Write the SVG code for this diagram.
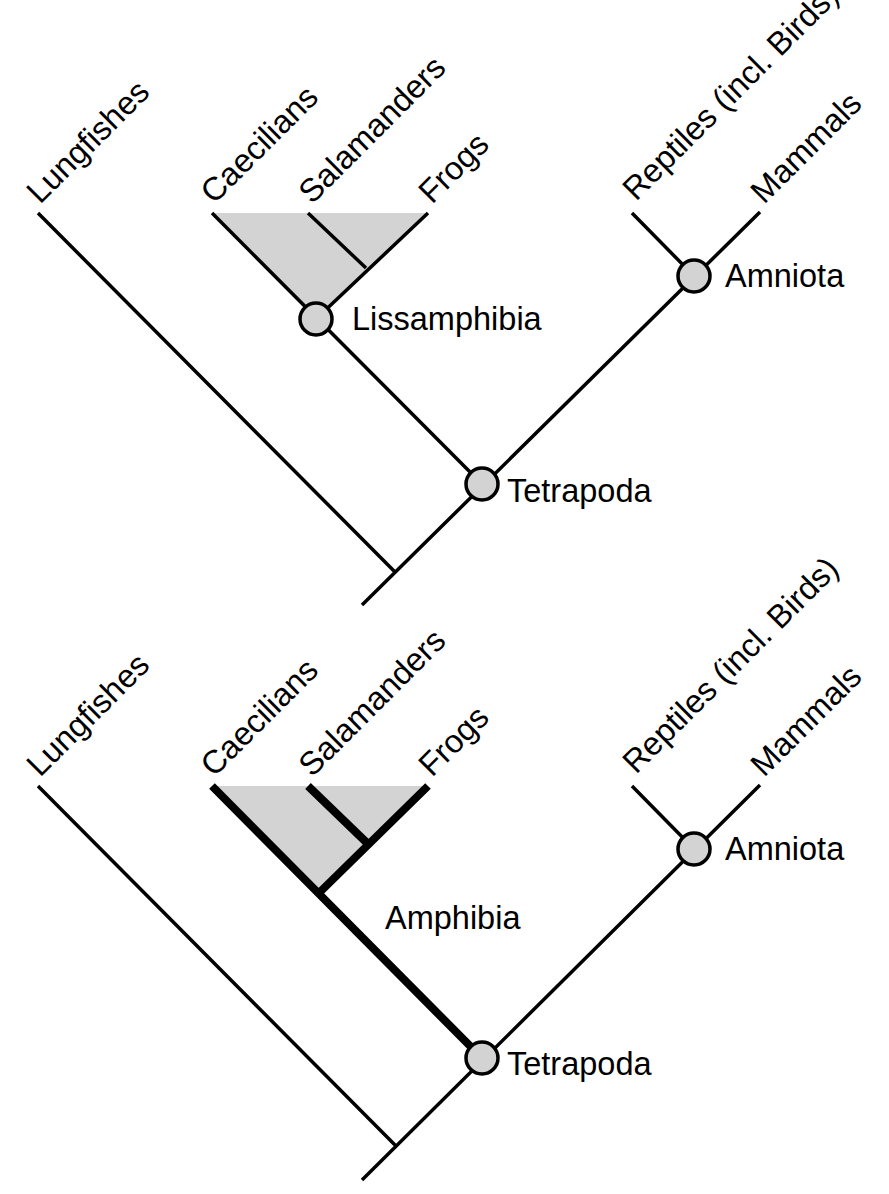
<svg xmlns="http://www.w3.org/2000/svg" width="889" height="1194" viewBox="0 0 889 1194">
<style>
.l{stroke:#000;stroke-width:3.5;fill:none;stroke-linecap:butt}
.t{stroke:#000;stroke-width:8;fill:none}
.tri{fill:#d3d3d3}
.n{fill:#d3d3d3;stroke:#000;stroke-width:3.5}
text{font-family:"Liberation Sans",Arial,sans-serif;font-size:32.5px;fill:#000}
</style>
<rect width="889" height="1194" fill="#fff"/>
<g id="connectors">
<polygon class="tri" points="212,213 428,213 316,319"/>
<path class="l" d="M362,605 L760,212 M38,213 L395,572 M482,484 L212,213 M316,319 L428,213 M308,213 L366,268 M694,276 L632,213"/>
<polygon class="tri" points="212,786 428,786 320,892"/>
<path class="l" d="M362,1180 L760,785 M38,786 L395,1145 M694,849 L632,786"/>
<path class="t" d="M482,1058 L212,786 M320,892 L428,786 M308,786 L366,842"/>
</g>
<g id="tetrapoda1"><circle class="n" cx="482" cy="484" r="16"/><text x="507" y="502">Tetrapoda</text></g>
<g id="lissamphibia"><circle class="n" cx="316" cy="319" r="16"/><text x="352" y="330">Lissamphibia</text></g>
<g id="amniota1"><circle class="n" cx="694" cy="276" r="16"/><text x="725" y="287">Amniota</text></g>
<g id="tetrapoda2"><circle class="n" cx="482" cy="1058" r="16"/><text x="507" y="1075">Tetrapoda</text></g>
<g id="amniota2"><circle class="n" cx="694" cy="849" r="16"/><text x="725" y="860">Amniota</text></g>
<g id="amphibia"><text x="385" y="929">Amphibia</text></g>
<g id="tips1">
<text transform="translate(40,205) rotate(-45)">Lungfishes</text>
<text transform="translate(214,205) rotate(-45)">Caecilians</text>
<text transform="translate(312,205) rotate(-45)">Salamanders</text>
<text transform="translate(432,205) rotate(-45)">Frogs</text>
<text transform="translate(636,202) rotate(-45)">Reptiles (incl. Birds)</text>
<text transform="translate(764,205) rotate(-45)">Mammals</text>
</g>
<g id="tips2">
<text transform="translate(40,778) rotate(-45)">Lungfishes</text>
<text transform="translate(214,778) rotate(-45)">Caecilians</text>
<text transform="translate(312,778) rotate(-45)">Salamanders</text>
<text transform="translate(432,778) rotate(-45)">Frogs</text>
<text transform="translate(636,775) rotate(-45)">Reptiles (incl. Birds)</text>
<text transform="translate(764,778) rotate(-45)">Mammals</text>
</g>
</svg>
